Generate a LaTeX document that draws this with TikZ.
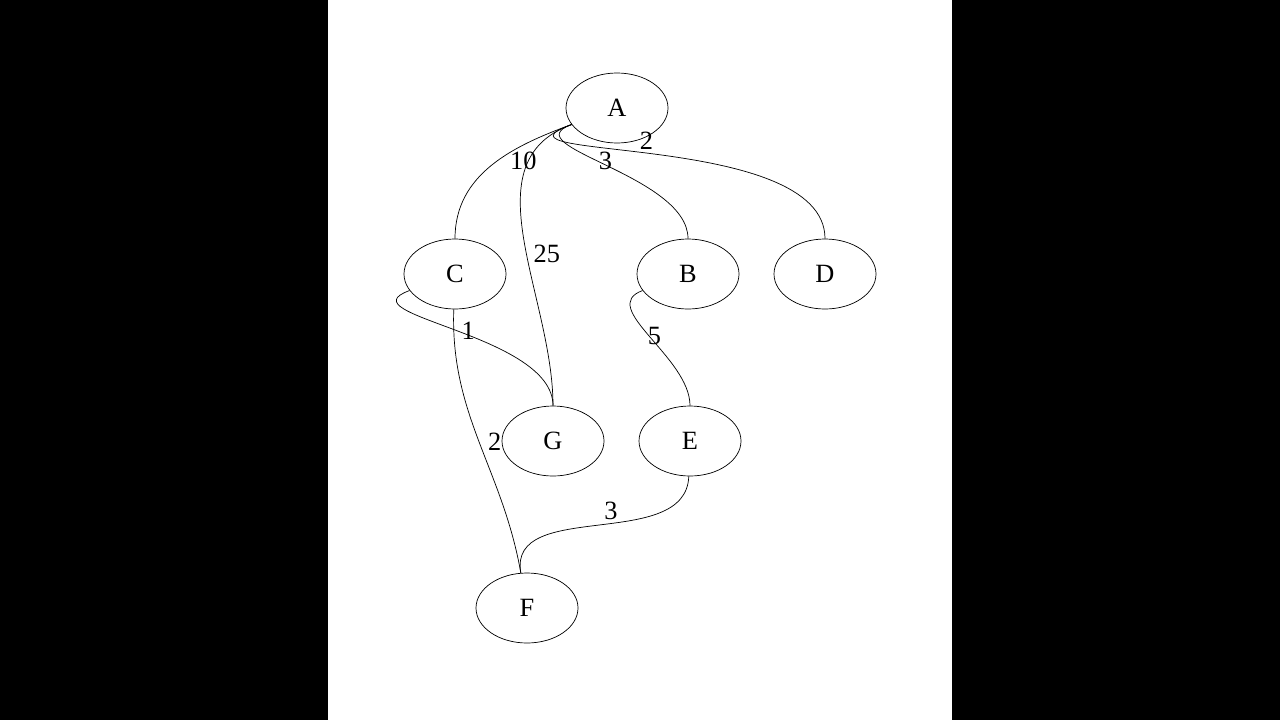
\documentclass[tikz,border=0pt]{standalone}
\usepackage{fontspec}
\setmainfont{Liberation Serif}
\usetikzlibrary{shapes.geometric}

\begin{document}
\begin{tikzpicture}[x=0.02cm,y=-0.02cm,
    vtx/.style={ellipse,draw,minimum width=102*0.02cm,minimum height=70*0.02cm,inner sep=0pt,font=\fontsize{15}{15}\selectfont},
    wt/.style={font=\fontsize{15}{15}\selectfont,inner sep=1pt}]
    \useasboundingbox (0,0) rectangle (1280,720);
    \fill[black] (0,0) rectangle (328,720);
    \fill[black] (952,0) rectangle (1280,720);
    \path
    (617,108) node[vtx](A) {A}
    (455,274) node[vtx](C) {C}
    (688,274) node[vtx](B) {B}
    (825,274) node[vtx](D) {D}
    (553,441) node[vtx](G) {G}
    (690,441) node[vtx](E) {E}
    (527,608) node[vtx](F) {F};

    \path[]
    (A) [-, black, out=200, in=90] edge node[wt, pos=0.45, right=6pt] {10} (C)
    (A) [-, black] edge node[wt, pos=0.55, right=3pt] {25} (G)
    (A) [-, black] edge node[wt, pos=0.45, right=0pt] {3} (B)
    (A) [-, black] edge node[wt, pos=0.45, above right=0pt] {2} (D)
    (C) [-, black] edge node[wt, pos=0.5, right=2pt] {1} (G)
    (B) [-, black] edge node[wt, pos=0.5, right=-2pt] {5} (E)
    (C) [-, black, out=268, in=100] edge node[wt, pos=0.5, right=4pt] {2} (F)
    (E) [-, black] edge node[wt, pos=0.5, above right=2pt] {3} (F)
    ;
\end{tikzpicture}
\end{document}
